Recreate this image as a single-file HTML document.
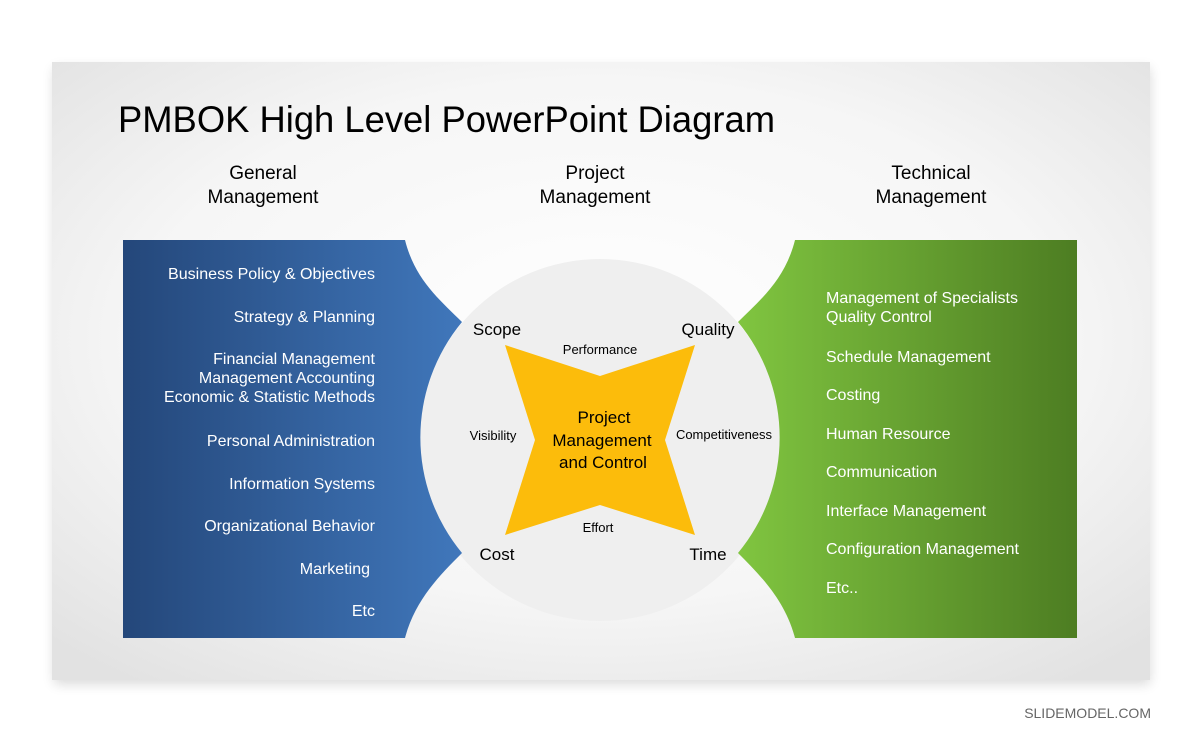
<!DOCTYPE html>
<html><head><meta charset="utf-8"><style>
html,body{margin:0;padding:0;background:#fff;}
svg{display:block;font-family:"Liberation Sans",Arial,sans-serif;}
</style></head><body>
<svg width="1200" height="743" viewBox="0 0 1200 743" xmlns="http://www.w3.org/2000/svg">
<defs>
<radialGradient id="bg" cx="0.5" cy="0.45" r="0.7">
<stop offset="0" stop-color="#ffffff"/><stop offset="0.6" stop-color="#f6f6f6"/><stop offset="1" stop-color="#e2e2e2"/>
</radialGradient>
<linearGradient id="bl" x1="0" x2="1" y1="0" y2="0">
<stop offset="0" stop-color="#24477a"/><stop offset="1" stop-color="#4077bb"/>
</linearGradient>
<linearGradient id="gr" x1="0" x2="1" y1="0" y2="0">
<stop offset="0" stop-color="#80c540"/><stop offset="1" stop-color="#4d7d22"/>
</linearGradient>
<filter id="sh" x="-5%" y="-5%" width="110%" height="115%"><feGaussianBlur stdDeviation="6"/></filter>
</defs>
<rect x="54" y="68" width="1096" height="616" fill="#000" opacity="0.15" filter="url(#sh)"/>
<rect x="52" y="62" width="1098" height="618" fill="url(#bg)"/>
<text x="118" y="132" font-size="37" textLength="657" lengthAdjust="spacingAndGlyphs" fill="#000">PMBOK High Level PowerPoint Diagram</text>
<g font-size="19" text-anchor="middle" fill="#000">
<text x="263" y="179">General</text><text x="263" y="203">Management</text>
<text x="595" y="179">Project</text><text x="595" y="203">Management</text>
<text x="931" y="179">Technical</text><text x="931" y="203">Management</text>
</g>
<circle cx="600" cy="440" r="181" fill="#efefef"/>
<path d="M123 240 H405 C415 280 440 300 462 322 A181 181 0 0 0 462 553 C440 575 415 600 405 638 H123 Z" fill="url(#bl)"/>
<path d="M1077 240 H795 C785 280 760 300 738 322 A181 181 0 0 1 738 553 C760 575 785 600 795 638 H1077 Z" fill="url(#gr)"/>
<path d="M505 345 L600 376 L695 345 L665 440 L695 535 L600 505 L505 535 L535 440 Z" fill="#fcbc0b"/>
<g font-size="17" text-anchor="middle" fill="#000">
<text x="604" y="423">Project</text><text x="602" y="446">Management</text><text x="603" y="468">and Control</text>
</g>
<g font-size="17" text-anchor="middle" fill="#000">
<text x="497" y="335">Scope</text><text x="708" y="335">Quality</text>
<text x="497" y="560">Cost</text><text x="708" y="560">Time</text>
</g>
<g font-size="13" text-anchor="middle" fill="#000">
<text x="600" y="354">Performance</text>
<text x="493" y="440">Visibility</text>
<text x="724" y="439">Competitiveness</text>
<text x="598" y="532">Effort</text>
</g>
<g font-size="16" text-anchor="end" fill="#fff">
<text x="375" y="279" textLength="207" lengthAdjust="spacingAndGlyphs">Business Policy &amp; Objectives</text>
<text x="375" y="322">Strategy &amp; Planning</text>
<text x="375" y="364">Financial Management</text>
<text x="375" y="383">Management Accounting</text>
<text x="375" y="402" textLength="211" lengthAdjust="spacingAndGlyphs">Economic &amp; Statistic Methods</text>
<text x="375" y="446">Personal Administration</text>
<text x="375" y="489">Information Systems</text>
<text x="375" y="531">Organizational Behavior</text>
<text x="370" y="574">Marketing</text>
<text x="375" y="616">Etc</text>
</g>
<g font-size="16" fill="#fff">
<text x="826" y="303" textLength="192" lengthAdjust="spacingAndGlyphs">Management of Specialists</text>
<text x="826" y="322">Quality Control</text>
<text x="826" y="362">Schedule Management</text>
<text x="826" y="400">Costing</text>
<text x="826" y="439">Human Resource</text>
<text x="826" y="477">Communication</text>
<text x="826" y="516">Interface Management</text>
<text x="826" y="554" textLength="193" lengthAdjust="spacingAndGlyphs">Configuration Management</text>
<text x="826" y="593">Etc..</text>
</g>
<text x="1151" y="718" font-size="14" text-anchor="end" fill="#666">SLIDEMODEL.COM</text>
</svg>
</body></html>
